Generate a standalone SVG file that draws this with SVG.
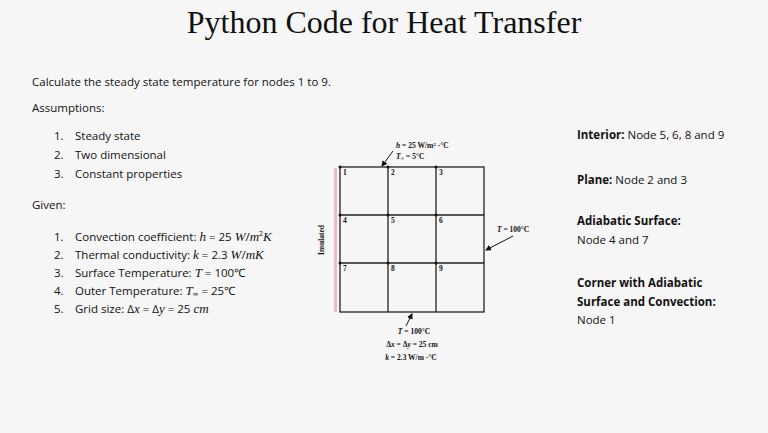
<svg xmlns="http://www.w3.org/2000/svg" width="768" height="433" viewBox="0 0 768 433">
<style>
.t{font-family:"Open Sans","Liberation Sans",sans-serif;font-size:11.5px;fill:#111}
.b{font-weight:bold}
.i{font-style:italic;font-family:"Liberation Serif",serif;font-size:13px}
.s{font-family:"Liberation Serif",serif;fill:#111}
.g{stroke:#222;stroke-width:1.3;fill:none}
.a{stroke:#111;stroke-width:1;marker-end:url(#ah)}
</style>
<defs><marker id="ah" markerWidth="6" markerHeight="6" refX="5" refY="3" orient="auto"><path d="M0,0L6,3L0,6z" fill="#111"/></marker></defs>
<rect width="768" height="433" fill="#f6f6f6"/>
<text x="384" y="33" text-anchor="middle" class="s" font-size="32">Python Code for Heat Transfer</text>
<g class="t" transform="translate(0,4)">
<text x="32" y="82">Calculate the steady state temperature for nodes 1 to 9.</text>
<text x="32" y="108">Assumptions:</text>
<text x="54" y="136">1.</text><text x="75" y="136">Steady state</text>
<text x="54" y="155">2.</text><text x="75" y="155">Two dimensional</text>
<text x="54" y="174">3.</text><text x="75" y="174">Constant properties</text>
<text x="32" y="205">Given:</text>
<text x="54" y="237">1.</text><text x="75" y="237">Convection coefficient: <tspan class="i">h</tspan> = 25 <tspan class="i">W</tspan>/<tspan class="i">m</tspan><tspan font-size="7" dy="-5">2</tspan><tspan dy="5" class="i">K</tspan></text>
<text x="54" y="255">2.</text><text x="75" y="255">Thermal conductivity: <tspan class="i">k</tspan> = 2.3 <tspan class="i">W</tspan>/<tspan class="i">mK</tspan></text>
<text x="54" y="273">3.</text><text x="75" y="273">Surface Temperature: <tspan class="i">T</tspan> = 100℃</text>
<text x="54" y="291">4.</text><text x="75" y="291">Outer Temperature: <tspan class="i">T</tspan><tspan font-size="8" dy="2">∞</tspan><tspan dy="-2"> = 25℃</tspan></text>
<text x="54" y="309">5.</text><text x="75" y="309">Grid size: Δ<tspan class="i">x</tspan> = Δ<tspan class="i">y</tspan>  = 25 <tspan class="i">cm</tspan></text>
<text x="577" y="135"><tspan class="b">Interior:</tspan> Node 5, 6, 8 and 9</text>
<text x="577" y="180"><tspan class="b">Plane:</tspan> Node 2 and 3</text>
<text x="577" y="221" class="b">Adiabatic Surface:</text>
<text x="577" y="240">Node 4 and 7</text>
<text x="577" y="283" class="b">Corner with Adiabatic</text>
<text x="577" y="302" class="b">Surface and Convection:</text>
<text x="577" y="320">Node 1</text>
</g>
<rect x="334" y="168" width="3" height="144" fill="#f0b8cc"/>
<text transform="translate(324,240) rotate(-90)" text-anchor="middle" class="s" font-size="7.5" font-weight="bold">Insulated</text>
<g id="grid">
<rect x="340" y="167" width="144" height="145" class="g"/>
<path class="g" d="M388,167V312M436,167V312M340,215H484M340,263H484"/>
</g>
<g id="nodes" class="s" font-size="7.5" font-weight="bold">
<g id="n1"><circle cx="340" cy="167" r="1.5"/><text x="343" y="175">1</text></g>
<g id="n2"><circle cx="388" cy="167" r="1.5"/><text x="391" y="175">2</text></g>
<g id="n3"><circle cx="436" cy="167" r="1.5"/><text x="439" y="175">3</text></g>
<g id="n4"><circle cx="340" cy="215" r="1.5"/><text x="343" y="223">4</text></g>
<g id="n5"><circle cx="388" cy="215" r="1.5"/><text x="391" y="223">5</text></g>
<g id="n6"><circle cx="436" cy="215" r="1.5"/><text x="439" y="223">6</text></g>
<g id="n7"><circle cx="340" cy="263" r="1.5"/><text x="343" y="271">7</text></g>
<g id="n8"><circle cx="388" cy="263" r="1.5"/><text x="391" y="271">8</text></g>
<g id="n9"><circle cx="436" cy="263" r="1.5"/><text x="439" y="271">9</text></g>
</g>
<g id="connectors">
<line x1="393" y1="151" x2="382" y2="166" class="a"/>
<line x1="513" y1="236" x2="486" y2="250" class="a"/>
<line x1="406" y1="326" x2="412" y2="314" class="a"/>
</g>
<g class="s" font-size="7.5" font-weight="bold">
<text x="396" y="148"><tspan font-style="italic">h</tspan> = 25 W/m<tspan font-size="5" dy="-2">2</tspan><tspan dy="2"> ·°C</tspan></text>
<text x="396" y="159"><tspan font-style="italic">T</tspan><tspan font-size="5" dy="1">∞</tspan><tspan dy="-1"> = 5°C</tspan></text>
<text x="497" y="232"><tspan font-style="italic">T</tspan> = 100°C</text>
<text x="414" y="334" text-anchor="middle"><tspan font-style="italic">T</tspan> = 100°C</text>
<text x="412" y="347" text-anchor="middle">Δ<tspan font-style="italic">x</tspan> = Δ<tspan font-style="italic">y</tspan> = 25 cm</text>
<text x="411" y="360" text-anchor="middle"><tspan font-style="italic">k</tspan> = 2.3 W/m ·°C</text>
</g>
</svg>
